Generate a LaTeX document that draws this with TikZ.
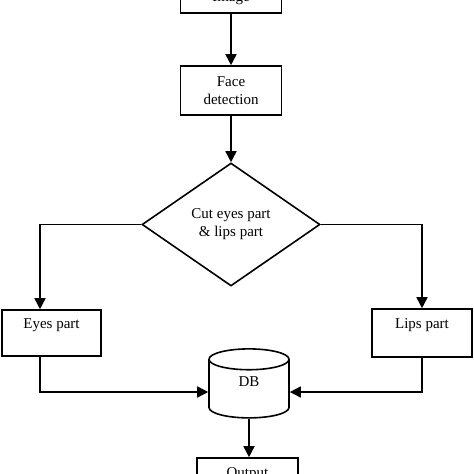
\documentclass[tikz,border=0pt]{standalone}
\usepackage{fontspec}
\setmainfont{Liberation Serif}
\usetikzlibrary{shapes.geometric}
\usetikzlibrary{arrows.meta}

\tikzset{
  box/.style={draw, line width=1.6pt, minimum width=101pt, minimum height=49pt, align=center, font=\fontsize{15}{18}\selectfont},
  toptext/.style={text height=10pt, text depth=20pt},
  arr/.style={-{Triangle[length=11pt,width=11pt]}, line width=1.7pt},
}

\begin{document}
\begin{tikzpicture}[x=1pt,y=-1pt]
    \useasboundingbox (0,0) rectangle (474,474);
    % boxes
    \node[box, text height=28pt, text depth=3pt] (img) at (231,-11.5){Image};
    \node[box] (face) at (231,90.5){Face\\detection};
    \node[box, shape=diamond, minimum width=178pt, minimum height=123pt, inner sep=0pt] (cut) at (231,224.5){Cut eyes part\\\& lips part};
    \node[box, toptext, minimum width=99pt, minimum height=46pt] (eyes) at (51.5,333){Eyes part};
    \node[box, toptext, minimum width=100pt, minimum height=48pt] (lips) at (422,333){Lips part};
    \node[box, shape=cylinder, shape border rotate=90, aspect=1, minimum width=80pt, minimum height=69pt, inner sep=0pt, text height=10pt, text depth=16pt] (db) at (249,389){DB};
    \node[box, toptext] (out) at (247.5,482.5){Output};
    % arrows
    \draw[arr] (img) -- (face);
    \draw[arr] (face) -- (cut);
    \draw[arr] (cut.west) -| ([xshift=-11.5pt]eyes.north);
    \draw[arr] (cut.east) -| (lips.north);
    \draw[arr] ([xshift=-11.5pt]eyes.south) |- ([yshift=-3pt]db.west);
    \draw[arr] (lips.south) |- ([yshift=-3pt]db.east);
    \draw[arr] (db.south) -- (db.south |- out.north);
\end{tikzpicture}
\end{document}
